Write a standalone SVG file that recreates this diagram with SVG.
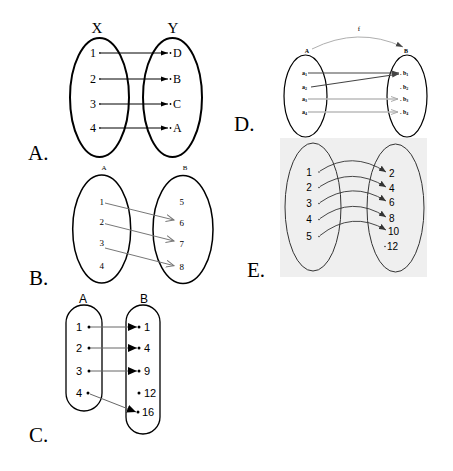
<svg xmlns="http://www.w3.org/2000/svg" width="453" height="471" viewBox="0 0 453 471">
<defs>
<style>
.lbl{font-family:"Liberation Serif",serif;font-size:21px;fill:#000}
.ser{font-family:"Liberation Serif",serif;fill:#000}
.sans{font-family:"Liberation Sans",Arial,sans-serif;fill:#000}
.ea{fill:none;stroke:#000;stroke-width:2}
.eb{fill:none;stroke:#000;stroke-width:1.5}
.ec{fill:none;stroke:#000;stroke-width:1.3}
.ed{fill:none;stroke:#000;stroke-width:1.2}
.ee{fill:none;stroke:#333;stroke-width:1}
</style>
<marker id="mA" markerWidth="8" markerHeight="6" refX="7" refY="3" orient="auto" markerUnits="userSpaceOnUse"><path d="M0,0.5 L7,3 L0,5.5 Z" fill="#000"/></marker>
<marker id="mB" markerWidth="10" markerHeight="8" refX="8" refY="4" orient="auto" markerUnits="userSpaceOnUse"><path d="M0,0.5 L8,4 L0,7.5" fill="none" stroke="#777" stroke-width="1"/></marker>
<marker id="mC" markerWidth="10" markerHeight="8" refX="9" refY="4" orient="auto" markerUnits="userSpaceOnUse"><path d="M0,0 L9,4 L0,8 Z" fill="#000"/></marker>
<marker id="mD" markerWidth="8" markerHeight="6" refX="7" refY="3" orient="auto" markerUnits="userSpaceOnUse"><path d="M0,0.5 L7,3 L0,5.5 Z" fill="#444"/></marker>
<marker id="mD2" markerWidth="8" markerHeight="6" refX="7" refY="3" orient="auto" markerUnits="userSpaceOnUse"><path d="M0,0.5 L7,3 L0,5.5" fill="none" stroke="#aaa" stroke-width="1"/></marker>
<marker id="mE" markerWidth="8" markerHeight="6" refX="7" refY="3" orient="auto" markerUnits="userSpaceOnUse"><path d="M0,0 L7,3 L0,6 Z" fill="#333"/></marker>
</defs>

<!-- Panel A -->
<g id="panelA">
<text class="lbl" x="28" y="160">A.</text>
<text class="ser" x="97" y="33" font-size="15" text-anchor="middle">X</text>
<text class="ser" x="173" y="33" font-size="15" text-anchor="middle">Y</text>
<ellipse class="ea" cx="99.5" cy="97.5" rx="29.5" ry="59.5"/>
<ellipse class="ea" cx="172.5" cy="97.5" rx="29.5" ry="59.5"/>
<g class="ser" font-size="12" text-anchor="middle">
<text x="93" y="57">1</text><text x="93" y="83">2</text><text x="93" y="108">3</text><text x="93" y="132">4</text>
</g>
<g class="ser" font-size="12">
<text x="173" y="57">D</text><text x="173" y="83">B</text><text x="173" y="108">C</text><text x="173" y="132">A</text>
</g>
<g fill="#000">
<circle cx="100" cy="53" r="0.9"/><circle cx="100" cy="79" r="0.9"/><circle cx="100" cy="104" r="0.9"/><circle cx="100" cy="128" r="0.9"/>
<circle cx="170.5" cy="53" r="0.9"/><circle cx="170.5" cy="79" r="0.9"/><circle cx="170.5" cy="104" r="0.9"/><circle cx="170.5" cy="128" r="0.9"/>
</g>
<text class="ser" x="104" y="170" font-size="7" text-anchor="middle">A</text>
<text class="ser" x="185" y="170" font-size="7" text-anchor="middle">B</text>
</g>

<!-- Panel B -->
<g id="panelB">
<text class="lbl" x="29" y="285">B.</text>
<ellipse class="eb" cx="101.7" cy="229" rx="29" ry="54"/>
<ellipse class="eb" cx="183" cy="229.5" rx="30" ry="54"/>
<g class="ser" font-size="9" fill="#333" text-anchor="middle">
<text x="101.7" y="205">1</text><text x="101.7" y="225">2</text><text x="101.7" y="246">3</text><text x="101.7" y="269">4</text>
<text x="181.7" y="205">5</text><text x="181.7" y="226">6</text><text x="181.7" y="247">7</text><text x="181.7" y="270">8</text>
</g>
<text class="sans" x="83" y="303" font-size="12" text-anchor="middle">A</text>
<text class="sans" x="144" y="303" font-size="12" text-anchor="middle">B</text>
</g>

<!-- Panel C -->
<g id="panelC">
<text class="lbl" x="29" y="442">C.</text>
<rect class="ec" x="66" y="305" width="36" height="106" rx="18"/>
<rect class="ec" x="126" y="305" width="34" height="129" rx="17"/>
<g class="sans" font-size="11" text-anchor="middle">
<text x="79" y="331">1</text><text x="79" y="352">2</text><text x="79" y="375">3</text><text x="79" y="397">4</text>
</g>
<g class="sans" font-size="11">
<text x="144" y="331">1</text><text x="144" y="352">4</text><text x="144" y="375">9</text><text x="144" y="397">12</text><text x="142" y="416">16</text>
</g>
<g fill="#000">
<circle cx="89" cy="327" r="1.5"/><circle cx="89" cy="348" r="1.5"/><circle cx="89" cy="371" r="1.5"/><circle cx="88" cy="393" r="1.5"/>
<circle cx="139" cy="327" r="1.5"/><circle cx="139" cy="348" r="1.5"/><circle cx="139" cy="371" r="1.5"/><circle cx="139" cy="393" r="1.5"/><circle cx="138" cy="412" r="1.5"/>
</g>
</g>

<!-- Panel D -->
<g id="panelD">
<text class="lbl" x="234" y="131">D.</text>
<text class="ser" x="359" y="31" font-size="7" text-anchor="middle">f</text>
<text class="ser" x="307" y="53" font-size="6" font-weight="bold" text-anchor="middle">A</text>
<text class="ser" x="406" y="53" font-size="6" font-weight="bold" text-anchor="middle">B</text>
<ellipse class="ed" cx="305.5" cy="96" rx="21.5" ry="41"/>
<ellipse class="ed" cx="407" cy="96" rx="20" ry="41"/>
<g class="ser" font-size="6" font-weight="bold">
<text x="302" y="75">a<tspan font-size="4" dy="1">1</tspan></text>
<text x="302" y="89">a<tspan font-size="4" dy="1">2</tspan></text>
<text x="302" y="101">a<tspan font-size="4" dy="1">3</tspan></text>
<text x="302" y="114">a<tspan font-size="4" dy="1">4</tspan></text>
<text x="400" y="75">. b<tspan font-size="4" dy="1">1</tspan></text>
<text x="400" y="89">. b<tspan font-size="4" dy="1">2</tspan></text>
<text x="400" y="101">. b<tspan font-size="4" dy="1">3</tspan></text>
<text x="400" y="114">. b<tspan font-size="4" dy="1">4</tspan></text>
</g>
</g>

<!-- Panel E -->
<g id="panelE">
<rect x="280" y="138" width="147" height="139" fill="#efefef"/>
<text class="lbl" x="247" y="277">E.</text>
<ellipse class="ee" cx="313" cy="207" rx="28" ry="64"/>
<ellipse class="ee" cx="395.5" cy="208" rx="28.5" ry="64"/>
<g class="sans" font-size="10" fill="#333" text-anchor="middle">
<text x="309" y="175.5">1</text><text x="309" y="191">2</text><text x="309" y="207">3</text><text x="309" y="223">4</text><text x="309" y="240">5</text>
</g>
<g class="sans" font-size="10" fill="#333">
<text x="389" y="177">2</text><text x="389" y="192">4</text><text x="389" y="206">6</text><text x="389" y="222">8</text><text x="388" y="235">10</text><text x="387" y="250">12</text>
</g>
<g fill="#333">
<circle cx="319" cy="172" r="0.8"/><circle cx="319" cy="187.5" r="0.8"/><circle cx="319" cy="203.5" r="0.8"/><circle cx="319" cy="219.5" r="0.8"/><circle cx="319" cy="236.5" r="0.8"/>
<circle cx="385" cy="246.5" r="0.8"/>
</g>
</g>

<!-- Connectors -->
<g id="connectors">
<g stroke="#000" stroke-width="1" fill="none" marker-end="url(#mA)">
<line x1="101" y1="53" x2="168" y2="53"/>
<line x1="101" y1="79" x2="168" y2="79"/>
<line x1="101" y1="104" x2="168" y2="104"/>
<line x1="101" y1="128" x2="168" y2="128"/>
</g>
<g stroke="#777" stroke-width="1" fill="none" marker-end="url(#mB)">
<line x1="105" y1="203" x2="174" y2="220"/>
<line x1="105" y1="223.7" x2="174" y2="241"/>
<line x1="105" y1="248" x2="174" y2="265.7"/>
</g>
<g stroke="#666" stroke-width="1" fill="none" marker-end="url(#mC)">
<line x1="90" y1="327" x2="137" y2="327"/>
<line x1="90" y1="348" x2="137" y2="348"/>
<line x1="90" y1="371" x2="137" y2="371"/>
<line x1="90" y1="394" x2="136" y2="412"/>
</g>
<path d="M312,49 Q358,26 403,47" fill="none" stroke="#999" stroke-width="0.8" marker-end="url(#mD)"/>
<g stroke="#444" stroke-width="1.2" fill="none" marker-end="url(#mD)">
<line x1="308" y1="73" x2="399" y2="73"/>
<line x1="311" y1="87" x2="399" y2="74"/>
</g>
<g stroke="#bbb" stroke-width="1.3" fill="none" marker-end="url(#mD2)">
<line x1="308" y1="99" x2="398" y2="99"/>
<line x1="308" y1="112" x2="398" y2="112"/>
</g>
<g stroke="#333" stroke-width="0.9" fill="none" marker-end="url(#mE)">
<path d="M320,171 Q352,150 386,172"/>
<path d="M320,186.5 Q352,166 386,187"/>
<path d="M320,202.5 Q352,180 386,201"/>
<path d="M320,218.5 Q352,195 386,217"/>
<path d="M320,235.5 Q352,210 386,230"/>
</g>
</g>
</svg>
